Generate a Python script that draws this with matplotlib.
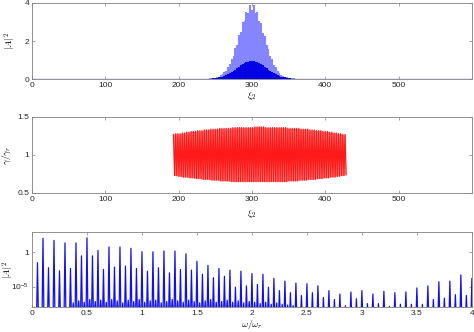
import numpy as np
import matplotlib
matplotlib.use("Agg")
import matplotlib.pyplot as plt

plt.rcParams['font.family'] = ['Liberation Sans', 'DejaVu Sans']
plt.rcParams['mathtext.fontset'] = 'cm'
plt.rcParams['font.size'] = 6

# --- top panel: |A|^2 along z2 (spike positions and heights) ---
z_top = np.arange(232.5, 370.0, 2.5)
A2_light = [0.01, 0.01, 0.02, 0.02, 0.03, 0.04, 0.06, 0.07, 0.10, 0.13,
            0.19, 0.24, 0.36, 0.44, 0.64, 0.77, 1.06, 1.22, 1.63, 1.80,
            2.31, 2.45, 2.99, 3.05, 3.55, 3.45, 3.88, 3.62, 3.87, 3.47,
            3.52, 3.04, 2.97, 2.44, 2.28, 1.80, 1.60, 1.21, 1.04, 0.76,
            0.62, 0.44, 0.34, 0.23, 0.18, 0.12, 0.09, 0.06, 0.05, 0.03,
            0.03, 0.02, 0.01, 0.01, 0.01]
A2_dark = [0.01, 0.01, 0.01, 0.01, 0.02, 0.02, 0.03, 0.04, 0.06, 0.08,
           0.10, 0.13, 0.16, 0.21, 0.25, 0.31, 0.37, 0.44, 0.50, 0.58,
           0.65, 0.72, 0.78, 0.84, 0.89, 0.92, 0.94, 0.95, 0.94, 0.92,
           0.89, 0.84, 0.78, 0.72, 0.65, 0.58, 0.50, 0.44, 0.37, 0.31,
           0.25, 0.21, 0.16, 0.13, 0.10, 0.08, 0.06, 0.04, 0.03, 0.02,
           0.02, 0.01, 0.01, 0.01, 0.01]

# --- middle panel: gamma/gamma_r oscillation (upper / lower turning points) ---
z_mid = np.arange(193.0, 428.0, 3.0)
gam_hi = [1.27, 1.28, 1.28, 1.28, 1.29, 1.29, 1.30, 1.30, 1.31, 1.31,
          1.31, 1.32, 1.32, 1.32, 1.33, 1.33, 1.33, 1.34, 1.34, 1.34,
          1.34, 1.35, 1.35, 1.35, 1.35, 1.35, 1.35, 1.36, 1.36, 1.36,
          1.36, 1.36, 1.36, 1.36, 1.36, 1.36, 1.36, 1.37, 1.37, 1.37,
          1.37, 1.37, 1.36, 1.36, 1.36, 1.36, 1.36, 1.36, 1.36, 1.36,
          1.36, 1.36, 1.35, 1.35, 1.35, 1.35, 1.35, 1.35, 1.34, 1.34,
          1.34, 1.34, 1.33, 1.33, 1.33, 1.32, 1.32, 1.32, 1.31, 1.31,
          1.31, 1.30, 1.30, 1.29, 1.29, 1.28, 1.28, 1.27, 1.27]
gam_lo = [0.73, 0.73, 0.72, 0.72, 0.71, 0.71, 0.71, 0.70, 0.70, 0.70,
          0.69, 0.69, 0.69, 0.68, 0.68, 0.68, 0.68, 0.67, 0.67, 0.67,
          0.67, 0.66, 0.66, 0.66, 0.66, 0.66, 0.65, 0.65, 0.65, 0.65,
          0.65, 0.65, 0.65, 0.65, 0.65, 0.65, 0.65, 0.65, 0.65, 0.65,
          0.65, 0.65, 0.65, 0.65, 0.65, 0.65, 0.65, 0.65, 0.65, 0.65,
          0.65, 0.65, 0.66, 0.66, 0.66, 0.66, 0.66, 0.67, 0.67, 0.67,
          0.67, 0.68, 0.68, 0.68, 0.68, 0.69, 0.69, 0.69, 0.70, 0.70,
          0.70, 0.71, 0.71, 0.71, 0.72, 0.72, 0.73, 0.73, 0.74]

# --- bottom panel: spectrum, log10 of peak heights at omega/omega_r = 0.05 .. 4 ---
w_peaks = np.arange(1, 81) * 0.05
logA_peaks = [-1.5, 2.06, -2.25, 1.76, -2.7, 1.4, -2.35, 1.4, -0.5, 2.15,
              -0.5, 0.3, -2.5, 0.8, -2.15, 0.8, -2.0, 0.6, -2.35, 0.1,
              -2.75, 0.1, -2.25, 0.2, -3.0, 0.2, -2.5, -0.2, -2.6, -1.3,
              -3.2, -1.9, -3.7, -2.35, -3.5, -2.6, -5.1, -2.75, -4.9, -3.1,
              -4.7, -3.2, -5.1, -3.8, -5.6, -4.2, -5.9, -4.5, -6.3, -4.6,
              -5.9, -4.9, -6.6, -5.6, -6.9, -6.1, -7.8, -5.8, -6.8, -5.6,
              -7.5, -6.1, -7.5, -5.7, -7.9, -5.9, -7.6, -5.8, -7.6, -5.2,
              -7.6, -4.9, -6.9, -4.3, -6.7, -4.2, -6.2, -3.3, -6.3, -3.8]
w_minor = 0.375 + np.arange(41) * 0.05
logA_minor = [-7.4, -7.1, -7.3, -6.9, -7.2, -7.0, -7.3, -6.9, -7.1, -7.4,
              -7.0, -7.2, -6.9, -7.3, -7.1, -7.0, -7.4, -7.2, -6.9, -7.1,
              -7.3, -7.0, -7.2, -7.4, -7.1, -6.9, -7.3, -7.2, -7.0, -7.3,
              -7.1, -7.4, -7.2, -7.3, -7.5, -7.3, -7.6, -7.4, -7.6, -7.7,
              -7.8]

frame = '0.5'


def style(ax):
    ax.tick_params(direction='in', top=True, right=True, length=2.5, width=0.5,
                   color=frame, labelsize=6, pad=2, labelcolor='0.15')
    ax.tick_params(which='minor', length=0)
    for s in ax.spines.values():
        s.set_color(frame)
        s.set_linewidth(0.6)


fig = plt.figure(figsize=(4.74, 3.32), dpi=100)

# top
ax1 = fig.add_axes([0.0675, 0.762, 0.928, 0.229])
ax1.plot([0, 600], [0, 0], color='#7f7fff', lw=1.0)
ax1.vlines(z_top, 0, A2_light, color='#8585ff', lw=1.5)
ax1.vlines(z_top, 0, A2_dark, color='#0000e6', lw=1.4)
ax1.set_xlim(0, 600)
ax1.set_ylim(0, 4)
ax1.set_xticks([0, 100, 200, 300, 400, 500])
ax1.set_yticks([0, 2, 4])
ax1.set_xlabel(r'$\xi_2$', fontsize=7, labelpad=1)
ax1.set_ylabel(r'$|A|^2$', fontsize=7)
ax1.yaxis.set_label_coords(-0.032, 0.5)
style(ax1)

# middle
ax2 = fig.add_axes([0.0675, 0.4187, 0.928, 0.229])
zz = np.column_stack([z_mid, z_mid + 1.5]).ravel()
gg = np.column_stack([gam_hi, gam_lo]).ravel()
ax2.fill_between(z_mid, gam_lo, gam_hi, color='#ff8c8c', lw=0)
ax2.plot(zz, gg, color='#ff1a1a', lw=0.9)
ax2.set_xlim(0, 600)
ax2.set_ylim(0.5, 1.5)
ax2.set_xticks([0, 100, 200, 300, 400, 500])
ax2.set_yticks([0.5, 1, 1.5])
ax2.set_yticklabels(['0.5', '1', '1.5'])
ax2.set_xlabel(r'$\xi_2$', fontsize=7, labelpad=4)
ax2.set_ylabel(r'$\gamma/\gamma_r$', fontsize=7)
ax2.yaxis.set_label_coords(-0.044, 0.5)
style(ax2)

# bottom
ax3 = fig.add_axes([0.0675, 0.0753, 0.928, 0.226])
floor = 1e-10
xs, ys = [], []
for w, h in zip(w_peaks, logA_peaks):
    xs += [w - 0.009, w, w + 0.009]
    ys += [floor, 10.0 ** h, floor]
for w, h in zip(w_minor, logA_minor):
    xs += [w - 0.012, w, w + 0.012]
    ys += [floor, 10.0 ** h, floor]
order = np.argsort(xs, kind='stable')
ax3.plot(np.array(xs)[order], np.array(ys)[order], color='#1010f0', lw=0.9)
ax3.set_yscale('log')
ax3.set_xlim(0, 4)
ax3.set_ylim(1e-8, 1e3)
ax3.set_xticks([0, 0.5, 1, 1.5, 2, 2.5, 3, 3.5, 4])
ax3.set_xticklabels(['0', '0.5', '1', '1.5', '2', '2.5', '3', '3.5', '4'])
ax3.set_yticks([1e-5, 1])
ax3.set_yticklabels([r'$\mathregular{10^{-5}}$', '1'])
ax3.minorticks_off()
ax3.set_xlabel(r'$\omega/\omega_r$', fontsize=7, labelpad=1)
ax3.set_ylabel(r'$|A|^2$', fontsize=7)
ax3.yaxis.set_label_coords(-0.036, 0.5)
style(ax3)

fig.savefig('out.png', dpi=100)
